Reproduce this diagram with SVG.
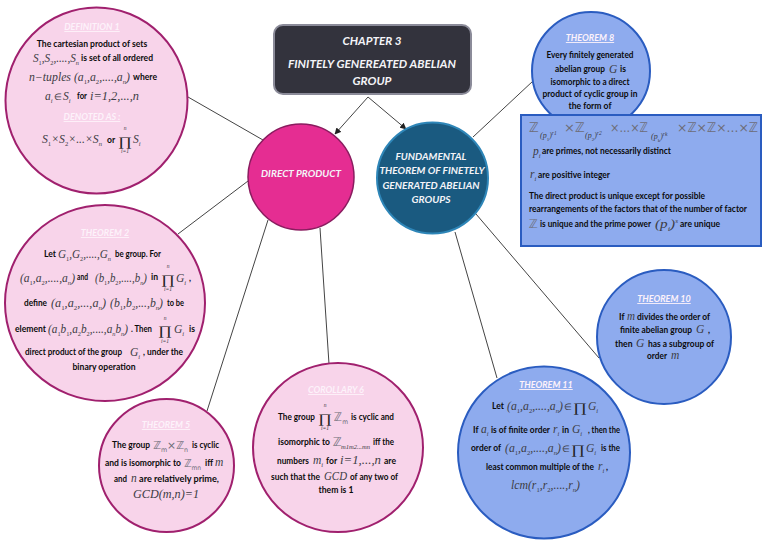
<svg xmlns="http://www.w3.org/2000/svg" width="768" height="543" viewBox="0 0 768 543">
<style>
text{font-family:"Lato","Liberation Sans",sans-serif}
.b{font-size:8.6px;font-weight:700;fill:#0c0c0c}
.c{text-anchor:middle}
.t{font-size:9px;font-weight:700;font-style:italic;fill:#fdf2fa;text-decoration:underline;text-anchor:middle}
.h{font-size:11.5px;font-weight:700;font-style:italic;fill:#f4f4f8;text-anchor:middle}
.m{font-family:"Liberation Serif",serif;font-size:11.5px;font-style:italic;fill:#3c3c44}
.p{font-family:"Liberation Serif",serif;font-size:13px;fill:#222}
.l{font-family:"Liberation Serif",serif;font-size:5.5px;font-style:italic;fill:#3c3c44;text-anchor:middle}
.z{font-family:"DejaVu Sans",sans-serif;font-size:12px;fill:#6d6d78}
.s{font-size:6.5px;baseline-shift:-3px}
.d{font-size:6.5px;baseline-shift:-3px;font-style:normal}
.u{font-size:5.5px;baseline-shift:5px}
.pk{fill:#f8d4ea;stroke:#a0206e;stroke-width:2}
.bl{fill:#8eabee;stroke:#2a5cc0;stroke-width:2}
.cn{stroke:#444;stroke-width:1;fill:none}
</style>
<defs>
<marker id="a" viewBox="0 0 10 10" refX="9" refY="5" markerWidth="6.5" markerHeight="6.5" orient="auto" markerUnits="userSpaceOnUse"><path d="M0 0L10 5L0 10z" fill="#222"/></marker>
</defs>
<g id="connectors">
<path class="cn" d="M188 97L263 140"/>
<path class="cn" d="M178 234L248 181"/>
<path class="cn" d="M268 220L207 411"/>
<path class="cn" d="M320 228L329 364"/>
<path class="cn" d="M473 137L533 81"/>
<path class="cn" d="M455 232L497 378"/>
<path class="cn" d="M476 214L599 358"/>
<path class="cn" d="M368 97L335 134" marker-end="url(#a)"/>
<path class="cn" d="M368 97L406 129" marker-end="url(#a)"/>
</g>
<g id="chapter">
<rect x="274" y="25" width="197" height="69" rx="9" fill="#33333d" stroke="#8b8b99" stroke-width="2"/>
<text class="h" x="372" y="45" textLength="59" lengthAdjust="spacingAndGlyphs">CHAPTER 3</text>
<text class="h" x="372" y="68" textLength="168" lengthAdjust="spacingAndGlyphs">FINITELY GENEREATED ABELIAN</text>
<text class="h" x="372" y="85" textLength="39" lengthAdjust="spacingAndGlyphs">GROUP</text>
</g>
<g id="direct-product">
<circle cx="301" cy="177" r="53" fill="#e52d92" stroke="#8a1c5f" stroke-width="1.5"/>
<text class="h" style="font-size:9.500px" x="301" y="177" textLength="80" lengthAdjust="spacingAndGlyphs">DIRECT PRODUCT</text>
</g>
<g id="fundamental">
<circle cx="432.500" cy="178" r="55.500" fill="#1a5a80" stroke="#2e86b8" stroke-width="2"/>
<text class="h" style="font-size:9.500px" x="431" y="160" textLength="71" lengthAdjust="spacingAndGlyphs">FUNDAMENTAL</text>
<text class="h" style="font-size:9.500px" x="432" y="174" textLength="105" lengthAdjust="spacingAndGlyphs">THEOREM OF FINETELY</text>
<text class="h" style="font-size:9.500px" x="431" y="189" textLength="97" lengthAdjust="spacingAndGlyphs">GENERATED ABELIAN</text>
<text class="h" style="font-size:9.500px" x="431" y="203" textLength="39" lengthAdjust="spacingAndGlyphs">GROUPS</text>
</g>
<g id="definition-1">
<ellipse class="pk" cx="96.500" cy="100.500" rx="91" ry="93"/>
<text class="t" x="92" y="30">DEFINITION 1</text>
<text class="b c" x="92" y="47">The cartesian product of sets</text>
<text class="m" x="33" y="62" textLength="46" lengthAdjust="spacingAndGlyphs">S<tspan class="d">1</tspan>,S<tspan class="d">2</tspan>,....,S<tspan class="s">n</tspan></text>
<text class="b" x="81" y="61" textLength="72" lengthAdjust="spacingAndGlyphs">is set of all ordered</text>
<text class="m" x="29" y="81" textLength="101" lengthAdjust="spacingAndGlyphs">n−tuples (a<tspan class="d">1</tspan>,a<tspan class="d">2</tspan>,....,a<tspan class="s">n</tspan>)</text>
<text class="b" x="133" y="80" textLength="24" lengthAdjust="spacingAndGlyphs">where</text>
<text class="m" x="45" y="100">a<tspan class="s">i</tspan></text>
<text class="m" x="54" y="100" style="font-style:normal;font-size:9px">∈</text>
<text class="m" x="63" y="100">S<tspan class="s">i</tspan></text>
<text class="b" x="77" y="99" textLength="10" lengthAdjust="spacingAndGlyphs">for</text>
<text class="m" x="90" y="100" textLength="49" lengthAdjust="spacingAndGlyphs">i=1,2,...,n</text>
<text class="t" x="92" y="120">DENOTED AS :</text>
<text class="m" x="42" y="143" textLength="60" lengthAdjust="spacingAndGlyphs">S<tspan class="d">1</tspan>×S<tspan class="d">2</tspan>×...×S<tspan class="s">n</tspan></text>
<text class="b" x="107" y="143">or</text>
<text class="p" x="118" y="145.500" textLength="14" lengthAdjust="spacingAndGlyphs">∏</text>
<text class="l" x="125" y="130">n</text>
<text class="l" x="125" y="153">i=1</text>
<text class="m" x="133" y="143">S<tspan class="s">i</tspan></text>
</g>
<g id="theorem-2">
<ellipse class="pk" cx="105" cy="303" rx="100" ry="98"/>
<text class="t" x="105" y="236">THEOREM 2</text>
<text class="b" x="44" y="257">Let</text>
<text class="m" x="58" y="258" textLength="53" lengthAdjust="spacingAndGlyphs">G<tspan class="d">1</tspan>,G<tspan class="d">2</tspan>,....,G<tspan class="s">n</tspan></text>
<text class="b" x="115" y="257" textLength="46" lengthAdjust="spacingAndGlyphs">be group. For</text>
<text class="m" x="20" y="282" textLength="55" lengthAdjust="spacingAndGlyphs">(a<tspan class="d">1</tspan>,a<tspan class="d">2</tspan>,....,a<tspan class="s">n</tspan>)</text>
<text class="b" x="77" y="280" textLength="11" lengthAdjust="spacingAndGlyphs">and</text>
<text class="m" x="95" y="282" textLength="52" lengthAdjust="spacingAndGlyphs">(b<tspan class="d">1</tspan>,b<tspan class="d">2</tspan>,....,b<tspan class="s">n</tspan>)</text>
<text class="b" x="151" y="280">in</text>
<text class="p" x="161" y="283.500" textLength="14" lengthAdjust="spacingAndGlyphs">∏</text>
<text class="l" x="168" y="268">n</text>
<text class="l" x="168" y="291">i=1</text>
<text class="m" x="176" y="282">G<tspan class="s">i</tspan></text>
<text class="b" x="189" y="281">,</text>
<text class="b" x="24" y="306" textLength="23" lengthAdjust="spacingAndGlyphs">define</text>
<text class="m" x="51" y="307" textLength="55" lengthAdjust="spacingAndGlyphs">(a<tspan class="d">1</tspan>,a<tspan class="d">2</tspan>,...,a<tspan class="s">n</tspan>)</text>
<text class="m" x="110" y="307" textLength="53" lengthAdjust="spacingAndGlyphs">(b<tspan class="d">1</tspan>,b<tspan class="d">2</tspan>,...,b<tspan class="s">n</tspan>)</text>
<text class="b" x="167" y="306" textLength="17" lengthAdjust="spacingAndGlyphs">to be</text>
<text class="b" x="15" y="332" textLength="31" lengthAdjust="spacingAndGlyphs">element</text>
<text class="m" x="48" y="333" textLength="80" lengthAdjust="spacingAndGlyphs">(a<tspan class="d">1</tspan>b<tspan class="d">1</tspan>,a<tspan class="d">2</tspan>b<tspan class="d">2</tspan>,....,a<tspan class="s">n</tspan>b<tspan class="s">n</tspan>)</text>
<text class="b" x="131" y="332" textLength="21" lengthAdjust="spacingAndGlyphs">. Then</text>
<text class="p" x="158" y="335" textLength="14" lengthAdjust="spacingAndGlyphs">∏</text>
<text class="l" x="165" y="319.500">n</text>
<text class="l" x="165" y="342.500">i=1</text>
<text class="m" x="174" y="333">G<tspan class="s">i</tspan></text>
<text class="b" x="189" y="332">is</text>
<text class="b" x="25" y="355" textLength="97" lengthAdjust="spacingAndGlyphs">direct product of the group</text>
<text class="m" x="130" y="356">G<tspan class="s">i</tspan></text>
<text class="b" x="143" y="355" textLength="40" lengthAdjust="spacingAndGlyphs">, under the</text>
<text class="b c" x="104" y="370">binary operation</text>
</g>
<g id="theorem-5">
<ellipse class="pk" cx="166.500" cy="465.500" rx="67.500" ry="66.500"/>
<text class="t" x="166" y="428">THEOREM 5</text>
<text class="b" x="112" y="448" textLength="38" lengthAdjust="spacingAndGlyphs">The group</text>
<text class="z" style="font-size:11px" x="153" y="449" textLength="35" lengthAdjust="spacingAndGlyphs">ℤ<tspan class="s">m</tspan>×ℤ<tspan class="s">n</tspan></text>
<text class="b" x="192" y="448" textLength="27" lengthAdjust="spacingAndGlyphs">is cyclic</text>
<text class="b" x="105" y="466" textLength="76" lengthAdjust="spacingAndGlyphs">and is isomorphic to</text>
<text class="z" style="font-size:11px" x="184" y="467" textLength="17" lengthAdjust="spacingAndGlyphs">ℤ<tspan class="s">mn</tspan></text>
<text class="b" x="205" y="466">iff</text>
<text class="m" x="215" y="466">m</text>
<text class="b" x="114" y="482" textLength="13" lengthAdjust="spacingAndGlyphs">and</text>
<text class="m" x="131" y="482">n</text>
<text class="b" x="139" y="482" textLength="80" lengthAdjust="spacingAndGlyphs">are relatively prime,</text>
<text class="m" x="133" y="498" textLength="66" lengthAdjust="spacingAndGlyphs">GCD(m,n)=1</text>
</g>
<g id="corollary-6">
<ellipse class="pk" cx="338" cy="447.500" rx="85" ry="84.500"/>
<text class="t" x="336" y="393">COROLLARY 6</text>
<text class="b" x="278" y="420" textLength="37" lengthAdjust="spacingAndGlyphs">The group</text>
<text class="p" x="318" y="422.500" textLength="14" lengthAdjust="spacingAndGlyphs">∏</text>
<text class="l" x="325" y="407">n</text>
<text class="l" x="325" y="430">i=1</text>
<text class="z" x="334" y="421" textLength="14" lengthAdjust="spacingAndGlyphs">ℤ<tspan class="s">m</tspan></text>
<text class="b" x="351" y="420" textLength="43" lengthAdjust="spacingAndGlyphs">is cyclic and</text>
<text class="b" x="278" y="445" textLength="52" lengthAdjust="spacingAndGlyphs">isomorphic to</text>
<text class="z" x="333" y="446">ℤ</text>
<text class="m" style="font-size:6px" x="341" y="449" textLength="29" lengthAdjust="spacingAndGlyphs">m1m2...mn</text>
<text class="b" x="373" y="445" textLength="21" lengthAdjust="spacingAndGlyphs">iff the</text>
<text class="b" x="277" y="464" textLength="32" lengthAdjust="spacingAndGlyphs">numbers</text>
<text class="m" x="313" y="464">m<tspan class="s">i</tspan></text>
<text class="b" x="326" y="464">for</text>
<text class="m" x="340" y="464" textLength="41" lengthAdjust="spacingAndGlyphs">i=1,...,n</text>
<text class="b" x="384" y="464">are</text>
<text class="b" x="271" y="480" textLength="49" lengthAdjust="spacingAndGlyphs">such that the</text>
<text class="m" x="324" y="480" textLength="23" lengthAdjust="spacingAndGlyphs">GCD</text>
<text class="b" x="350" y="480" textLength="48" lengthAdjust="spacingAndGlyphs">of any two of</text>
<text class="b c" x="336" y="493">them is 1</text>
</g>
<g id="theorem-8">
<circle class="bl" cx="591" cy="71" r="59"/>
<text class="t" x="590" y="41">THEOREM 8</text>
<text class="b c" x="590" y="58" textLength="87" lengthAdjust="spacingAndGlyphs">Every finitely generated</text>
<text class="b" x="555" y="72" textLength="50" lengthAdjust="spacingAndGlyphs">abelian group</text>
<text class="m" x="609" y="73">G</text>
<text class="b" x="620" y="72">is</text>
<text class="b c" x="590" y="85" textLength="79" lengthAdjust="spacingAndGlyphs">isomorphic to a direct</text>
<text class="b c" x="590" y="97" textLength="95" lengthAdjust="spacingAndGlyphs">product of cyclic group in</text>
<text class="b c" x="590" y="109">the form of</text>
</g>
<g id="theorem-8-detail">
<rect x="521" y="115" width="240" height="131" fill="#8eabee" stroke="#2a5cc0" stroke-width="2"/>
<text class="z" style="font-size:13px" x="529" y="132">ℤ</text>
<text class="m" style="font-size:8px" x="540" y="138">(p<tspan class="d" style="font-size:5px">1</tspan>)<tspan class="u" style="baseline-shift:3px">r1</tspan></text>
<text class="z" style="font-size:13px" x="564" y="132">×ℤ</text>
<text class="m" style="font-size:8px" x="585" y="138">(p<tspan class="d" style="font-size:5px">2</tspan>)<tspan class="u" style="baseline-shift:3px">r2</tspan></text>
<text class="z" style="font-size:13px" x="610" y="132" textLength="38" lengthAdjust="spacingAndGlyphs">×...×ℤ</text>
<text class="m" style="font-size:8px" x="651" y="138.500">(p<tspan class="d" style="font-size:5px">k</tspan>)<tspan class="u" style="baseline-shift:3px">rk</tspan></text>
<text class="z" style="font-size:13px" x="677" y="132" textLength="81" lengthAdjust="spacingAndGlyphs">×ℤ×ℤ×...×ℤ</text>
<text class="m" x="533" y="155">p<tspan class="s">i</tspan></text>
<text class="b" x="542" y="154" textLength="129" lengthAdjust="spacingAndGlyphs">are primes, not necessarily distinct</text>
<text class="m" x="530" y="178">r<tspan class="s">i</tspan></text>
<text class="b" x="538" y="178" textLength="72" lengthAdjust="spacingAndGlyphs">are positive integer</text>
<text class="b" x="529" y="199" textLength="176" lengthAdjust="spacingAndGlyphs">The direct product is unique except for possible</text>
<text class="b" x="529" y="212" textLength="218" lengthAdjust="spacingAndGlyphs">rearrangements of the factors that of the number of factor</text>
<text class="z" x="529" y="228">ℤ</text>
<text class="b" x="540" y="227" textLength="111" lengthAdjust="spacingAndGlyphs">is unique and the prime power</text>
<text class="m" x="655" y="228" textLength="23" lengthAdjust="spacingAndGlyphs">(p<tspan class="s">i</tspan>)<tspan class="u">s</tspan></text>
<text class="b" x="680" y="227" textLength="40" lengthAdjust="spacingAndGlyphs">are unique</text>
</g>
<g id="theorem-10">
<circle class="bl" cx="664" cy="337" r="67"/>
<text class="t" x="664" y="302">THEOREM 10</text>
<text class="b" x="619" y="320">If</text>
<text class="m" x="627" y="320" textLength="8" lengthAdjust="spacingAndGlyphs">m</text>
<text class="b" x="637" y="320" textLength="73" lengthAdjust="spacingAndGlyphs">divides the order of</text>
<text class="b" x="620" y="333" textLength="72" lengthAdjust="spacingAndGlyphs">finite abelian group</text>
<text class="m" x="696" y="333">G</text>
<text class="b" x="708" y="333">,</text>
<text class="b" x="615" y="347">then</text>
<text class="m" x="636" y="347">G</text>
<text class="b" x="648" y="347" textLength="66" lengthAdjust="spacingAndGlyphs">has a subgroup of</text>
<text class="b" x="647" y="359" textLength="20" lengthAdjust="spacingAndGlyphs">order</text>
<text class="m" x="671" y="359">m</text>
</g>
<g id="theorem-11">
<circle class="bl" cx="544" cy="452.500" r="86"/>
<text class="t" x="546" y="388">THEOREM 11</text>
<text class="b" x="492" y="409">Let</text>
<text class="m" x="507" y="410" textLength="56" lengthAdjust="spacingAndGlyphs">(a<tspan class="d">1</tspan>,a<tspan class="d">2</tspan>,....,a<tspan class="s">n</tspan>)</text>
<text class="m" x="564" y="410" style="font-style:normal;font-size:9px">∈</text>
<text class="p" x="573" y="412" textLength="14" lengthAdjust="spacingAndGlyphs">∏</text>
<text class="m" x="588" y="410">G<tspan class="s">i</tspan></text>
<text class="b" x="473" y="433">If</text>
<text class="m" x="481" y="433">a<tspan class="s">i</tspan></text>
<text class="b" x="491" y="433" textLength="59" lengthAdjust="spacingAndGlyphs">is of finite order</text>
<text class="m" x="553" y="433">r<tspan class="s">i</tspan></text>
<text class="b" x="562" y="433">in</text>
<text class="m" x="572" y="433">G<tspan class="s">i</tspan></text>
<text class="b" x="588" y="433" textLength="32" lengthAdjust="spacingAndGlyphs">, then the</text>
<text class="b" x="471" y="451" textLength="30" lengthAdjust="spacingAndGlyphs">order of</text>
<text class="m" x="505" y="452" textLength="56" lengthAdjust="spacingAndGlyphs">(a<tspan class="d">1</tspan>,a<tspan class="d">2</tspan>,....,a<tspan class="s">n</tspan>)</text>
<text class="m" x="562" y="452" style="font-style:normal;font-size:9px">∈</text>
<text class="p" x="571" y="454" textLength="14" lengthAdjust="spacingAndGlyphs">∏</text>
<text class="m" x="586" y="452">G<tspan class="s">i</tspan></text>
<text class="b" x="601" y="451" textLength="19" lengthAdjust="spacingAndGlyphs">is the</text>
<text class="b" x="486" y="470" textLength="108" lengthAdjust="spacingAndGlyphs">least common multiple of the</text>
<text class="m" x="598" y="470">r<tspan class="s">i</tspan></text>
<text class="b" x="606" y="470">,</text>
<text class="m" x="511" y="489" textLength="69" lengthAdjust="spacingAndGlyphs">lcm(r<tspan class="d">1</tspan>,r<tspan class="d">2</tspan>,....,r<tspan class="s">n</tspan>)</text>
</g>
</svg>
